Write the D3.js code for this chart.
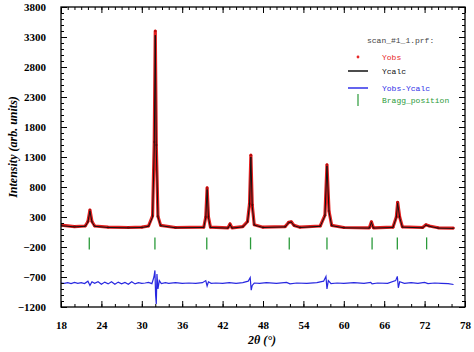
<!DOCTYPE html>
<html>
<head>
<meta charset="utf-8">
<script src="https://cdn.jsdelivr.net/npm/d3@7"></script>
<style>
  body { margin: 0; background: #fff; }
  svg { display: block; }
</style>
</head>
<body>
<script>
// profile: 2theta and intensities
const twoTheta = [18, 20, 21.6, 22.0, 22.3, 22.6, 23.0, 25, 28, 30, 31.0, 31.6, 31.85, 32.0, 32.15, 32.4, 32.8,
  35, 39.2, 39.5, 39.7, 39.9, 40.2, 42.8, 43.1, 43.4, 45.0, 45.7, 46.0, 46.2, 46.4, 46.7, 48, 51.3, 51.8,
  52.2, 52.6, 53.5, 56.5, 57.2, 57.5, 57.8, 58.2, 60, 63.8, 64.1, 64.4, 67.3, 67.8, 68.0, 68.3, 68.7,
  71.7, 72.2, 72.7, 74, 76.3];
const yObs = [165, 140, 150, 225, 415, 225, 150, 130, 125, 130, 150, 320, 1550, 3400, 1500, 310, 160,
  125, 130, 300, 785, 300, 130, 120, 185, 120, 140, 225, 520, 1330, 500, 170, 130, 140, 210,
  220, 160, 130, 150, 330, 1170, 400, 160, 125, 120, 220, 120, 130, 300, 545, 300, 135,
  125, 170, 150, 120, 115];
const yCalc = [155, 135, 145, 215, 400, 215, 145, 125, 120, 125, 145, 300, 1450, 3330, 1430, 300, 155,
  120, 125, 290, 760, 290, 125, 115, 175, 115, 135, 215, 500, 1300, 480, 165, 125, 135, 205,
  215, 155, 125, 145, 320, 1150, 390, 155, 120, 115, 210, 115, 125, 290, 530, 290, 130,
  120, 165, 145, 115, 110];

// Yobs - Ycalc (shifted)
const diffX = [18, 18.5, 19, 19.5, 20, 20.5, 21, 21.5, 22, 22.3, 22.6, 23, 23.5, 24, 24.5, 25, 25.5, 26, 26.5,
  27, 27.5, 28, 28.5, 29, 29.5, 30, 30.5, 31, 31.5, 31.8, 31.95, 32.05, 32.15, 32.25, 32.4, 32.6, 32.9,
  33.5, 34, 35, 36, 37, 38, 39, 39.5, 39.7, 39.9, 40.3, 41, 42, 43, 44, 45, 45.8, 46.1, 46.25, 46.4,
  46.7, 47.5, 48.5, 50, 51.5, 52, 53, 54.5, 56, 57, 57.35, 57.5, 57.7, 58.1, 59, 60, 61.5, 63, 64,
  64.2, 65, 66.5, 67.7, 67.95, 68.1, 68.3, 69, 70, 71, 72, 72.5, 73.5, 74.5, 75.5, 76.3];
const diffY = [-800, -805, -795, -810, -790, -805, -795, -810, -770, -840, -780, -805, -780, -820, -785, -815,
  -780, -820, -785, -815, -790, -820, -780, -815, -795, -805, -800, -790, -810, -700, -590, -1000, -1150,
  -650, -900, -760, -810, -795, -805, -795, -805, -800, -805, -795, -760, -850, -780, -805, -800, -805,
  -795, -805, -795, -770, -710, -920, -840, -800, -805, -795, -805, -790, -815, -800, -805, -795, -770,
  -690, -900, -760, -810, -800, -805, -795, -805, -790, -815, -800, -805, -760, -690, -880, -780, -805,
  -795, -805, -790, -810, -800, -805, -810, -825];

const braggPos = [22.2, 31.95, 39.65, 46.15, 51.9, 57.5, 64.2, 67.95, 72.3];

const yTicks = [-1200, -700, -200, 300, 800, 1300, 1800, 2300, 2800, 3300, 3800];
const xTicks = [18, 24, 30, 36, 42, 48, 54, 60, 66, 72, 78];

const width = 474, height = 352;
const margin = {top: 7, right: 9, bottom: 45, left: 61};

const x = d3.scaleLinear([18, 78], [margin.left, width - margin.right]);
const y = d3.scaleLinear([-1200, 3800], [height - margin.bottom, margin.top]);

const svg = d3.select("body").append("svg")
    .attr("width", width)
    .attr("height", height);

svg.append("defs").append("clipPath").attr("id", "plot")
  .append("rect")
    .attr("x", margin.left).attr("y", margin.top)
    .attr("width", width - margin.left - margin.right)
    .attr("height", height - margin.top - margin.bottom);

const plot = svg.append("g").attr("clip-path", "url(#plot)");

const line = d3.line().x(d => x(d[0])).y(d => y(d[1]));
const obs = twoTheta.map((t, i) => [t, yObs[i]]);
const calc = twoTheta.map((t, i) => [t, yCalc[i]]);
const diff = diffX.map((t, i) => [t, diffY[i]]);

// Yobs as a dense red band with dots
plot.append("path")
    .attr("d", line(obs))
    .attr("fill", "none")
    .attr("stroke", "#e42020")
    .attr("stroke-width", 3.2)
    .attr("stroke-linejoin", "round");
plot.append("g")
  .selectAll("circle")
  .data(obs)
  .join("circle")
    .attr("cx", d => x(d[0]))
    .attr("cy", d => y(d[1]))
    .attr("r", 1.3)
    .attr("fill", "#b80c0c");

plot.append("path")
    .attr("d", line(calc))
    .attr("fill", "none")
    .attr("stroke", "#111")
    .attr("stroke-width", 1);

plot.append("path")
    .attr("d", line(diff))
    .attr("fill", "none")
    .attr("stroke", "#2828e0")
    .attr("stroke-width", 1.2);

plot.append("g")
  .selectAll("line")
  .data(braggPos)
  .join("line")
    .attr("x1", d => x(d)).attr("x2", d => x(d))
    .attr("y1", y(-40)).attr("y2", y(-240))
    .attr("stroke", "#2a9a3a")
    .attr("stroke-width", 1.3);

// axes, ticks pointing inward on all four sides
function styleAxis(g) {
  g.select(".domain").remove();
  g.selectAll(".tick line").attr("stroke", "#000");
  g.selectAll(".tick text")
      .attr("font-family", "Liberation Serif, serif")
      .attr("font-weight", "bold")
      .attr("font-size", 11)
      .attr("fill", "#000");
}

const yMinor = d3.range(-1200, 3801, 100);
const xMinorBottom = d3.range(18, 79, 2);
const xMinorTop = d3.range(18, 79, 1);

svg.append("g")
    .attr("transform", `translate(${margin.left},0)`)
    .call(d3.axisLeft(y).tickValues(yMinor).tickSize(-3).tickFormat(""))
    .call(styleAxis);
svg.append("g")
    .attr("transform", `translate(${margin.left},0)`)
    .call(d3.axisLeft(y).tickValues(yTicks).tickSize(-6).tickPadding(15).tickFormat(d3.format("d")))
    .call(styleAxis);

svg.append("g")
    .attr("transform", `translate(${width - margin.right},0)`)
    .call(d3.axisRight(y).tickValues(yMinor).tickSize(-3).tickFormat(""))
    .call(styleAxis);
svg.append("g")
    .attr("transform", `translate(${width - margin.right},0)`)
    .call(d3.axisRight(y).tickValues(yTicks).tickSize(-6).tickFormat(""))
    .call(styleAxis);

svg.append("g")
    .attr("transform", `translate(0,${height - margin.bottom})`)
    .call(d3.axisBottom(x).tickValues(xMinorBottom).tickSize(-3).tickFormat(""))
    .call(styleAxis);
svg.append("g")
    .attr("transform", `translate(0,${height - margin.bottom})`)
    .call(d3.axisBottom(x).tickValues(xTicks).tickSize(-6).tickPadding(14).tickFormat(d3.format("d")))
    .call(styleAxis);

svg.append("g")
    .attr("transform", `translate(0,${margin.top})`)
    .call(d3.axisTop(x).tickValues(xMinorTop).tickSize(-3).tickFormat(""))
    .call(styleAxis);
svg.append("g")
    .attr("transform", `translate(0,${margin.top})`)
    .call(d3.axisTop(x).tickValues(xTicks).tickSize(-6).tickFormat(""))
    .call(styleAxis);

// frame
svg.append("rect")
    .attr("x", margin.left).attr("y", margin.top)
    .attr("width", width - margin.left - margin.right)
    .attr("height", height - margin.top - margin.bottom)
    .attr("fill", "none")
    .attr("stroke", "#000")
    .attr("stroke-width", 1.3);

// axis titles
svg.append("text")
    .attr("x", 262).attr("y", 344)
    .attr("text-anchor", "middle")
    .attr("font-family", "Liberation Serif, serif")
    .attr("font-weight", "bold")
    .attr("font-style", "italic")
    .attr("font-size", 12)
    .text("2θ (°)");

svg.append("text")
    .attr("transform", "translate(17,147) rotate(-90)")
    .attr("text-anchor", "middle")
    .attr("font-family", "Liberation Serif, serif")
    .attr("font-weight", "bold")
    .attr("font-style", "italic")
    .attr("font-size", 12)
    .text("Intensity (arb. units)");

// legend
const legend = svg.append("g")
    .attr("font-family", "Liberation Mono, monospace")
    .attr("font-size", 8);

legend.append("text")
    .attr("x", 367).attr("y", 43)
    .attr("fill", "#444")
    .text("scan_#1_1.prf:");

const legendItems = [
  {label: "Yobs", color: "#e82828", y: 57, kind: "dot"},
  {label: "Ycalc", color: "#111", y: 71, kind: "line"},
  {label: "Yobs-Ycalc", color: "#3030e8", y: 88, kind: "line"},
  {label: "Bragg_position", color: "#2a9a3a", y: 100, kind: "tick"}
];

legendItems.forEach(item => {
  if (item.kind === "dot") {
    legend.append("circle")
        .attr("cx", 358).attr("cy", item.y)
        .attr("r", 1.4)
        .attr("fill", item.color);
  } else if (item.kind === "line") {
    legend.append("line")
        .attr("x1", 348).attr("x2", 368)
        .attr("y1", item.y).attr("y2", item.y)
        .attr("stroke", item.color)
        .attr("stroke-width", 1.5);
  } else {
    legend.append("line")
        .attr("x1", 358).attr("x2", 358)
        .attr("y1", item.y - 6).attr("y2", item.y + 6)
        .attr("stroke", item.color)
        .attr("stroke-width", 1.2);
  }
  legend.append("text")
      .attr("x", 382).attr("y", item.y + 3)
      .attr("fill", item.color)
      .text(item.label);
});
</script>
</body>
</html>
